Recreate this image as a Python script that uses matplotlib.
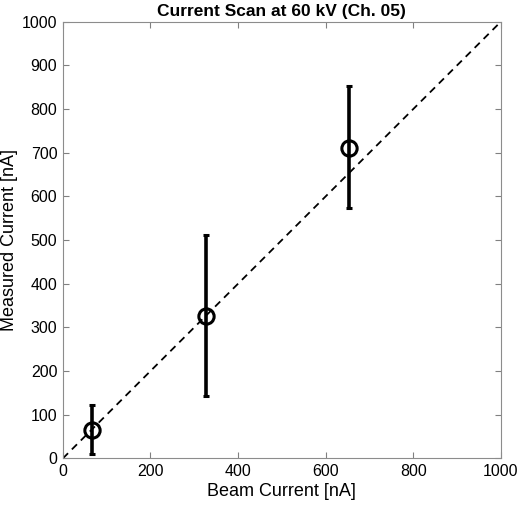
import matplotlib
matplotlib.use("Agg")
import matplotlib.pyplot as plt

beam_current = [66, 327, 654]
measured = [65, 326, 711]
err_low = [9, 143, 574]
err_high = [122, 511, 852]
x_ticks = [0, 200, 400, 600, 800, 1000]
y_ticks = [0, 100, 200, 300, 400, 500, 600, 700, 800, 900, 1000]

plt.rcParams['font.family'] = ['Liberation Sans', 'DejaVu Sans']
fig = plt.figure(figsize=(5.2, 5.07), dpi=100)
ax = fig.add_axes([0.121, 0.096, 0.842, 0.861])

ax.plot([0, 1000], [0, 1000], 'k--', lw=1.3, dashes=(4, 3))
yerr = [[m - l for m, l in zip(measured, err_low)],
        [h - m for m, h in zip(measured, err_high)]]
ax.errorbar(beam_current, measured, yerr=yerr, fmt='o', mfc='none', mec='k',
            ms=11, mew=2.2, ecolor='k', elinewidth=2.6, capsize=2.5, capthick=1.5,
            color='k')

ax.set_xlim(0, 1000)
ax.set_ylim(0, 1000)
ax.set_xticks(x_ticks)
ax.set_yticks(y_ticks)
ax.tick_params(direction='in', length=4, width=0.8, color='0.5', labelsize=11.5,
               top=True, right=True, pad=4)
for s in ax.spines.values():
    s.set_color('0.55')
    s.set_linewidth(0.8)
ax.set_xlabel('Beam Current [nA]', fontsize=13, labelpad=3)
ax.set_ylabel('Measured Current [nA]', fontsize=13, labelpad=3)
ax.set_title('Current Scan at 60 kV (Ch. 05)', fontsize=12.5, fontweight='bold', pad=4)

fig.savefig('out.png', dpi=100)
